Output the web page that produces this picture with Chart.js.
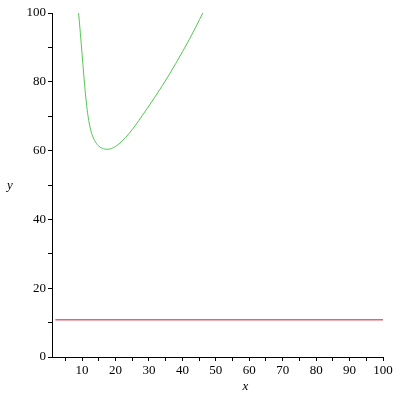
<!DOCTYPE html>
<html>
<head>
<meta charset="utf-8">
<script src="https://cdn.jsdelivr.net/npm/chart.js@4/dist/chart.umd.min.js"></script>
<style>
html,body{margin:0;padding:0;background:#fff;}
canvas{display:block;}
</style>
</head>
<body>
<canvas id="c" width="400" height="400"></canvas>
<script>
// Data
const curveX = [8.9, 9.5, 10, 10.5, 11, 11.5, 12, 12.5, 13, 14, 15, 16, 17, 18, 19, 20, 22, 24, 26, 28, 30, 32, 34, 36, 38, 40, 42, 44, 46.2];
const curveY = [100.5, 94, 88, 82, 76.5, 72, 68.7, 66.3, 64.6, 62.5, 61.3, 60.7, 60.4, 60.4, 60.7, 61.2, 62.8, 64.9, 67.4, 70.2, 73, 75.9, 78.9, 82, 85.3, 88.7, 92.2, 95.9, 100.2];
const lineX = [2, 100];
const lineY = [10.8, 10.8];
const xTicks = [5, 10, 15, 20, 25, 30, 35, 40, 45, 50, 55, 60, 65, 70, 75, 80, 85, 90, 95, 100];
const xLabels = [10, 20, 30, 40, 50, 60, 70, 80, 90, 100];
const yTicks = [0, 10, 20, 30, 40, 50, 60, 70, 80, 90, 100];
const yLabels = [0, 20, 40, 60, 80, 100];
const xTitle = 'x';
const yTitle = 'y';

const curveData = curveX.map((x, i) => ({x: x, y: curveY[i]}));
const lineData = lineX.map((x, i) => ({x: x, y: lineY[i]}));

const titles = {
  id: 'titles',
  afterDraw(chart) {
    const ctx = chart.ctx;
    ctx.save();
    ctx.fillStyle = '#000';
    ctx.font = 'italic 13px "Liberation Serif"';
    ctx.textAlign = 'center';
    ctx.textBaseline = 'middle';
    const xs = chart.scales.x;
    ctx.fillText(xTitle, (xs.left + xs.right) / 2 + 28, 387);
    ctx.fillText(yTitle, 10, 186);
    ctx.restore();
  }
};

new Chart(document.getElementById('c'), {
  type: 'scatter',
  data: {
    datasets: [
      {data: curveData, showLine: true, borderColor: 'rgb(80,200,80)', borderWidth: 1, pointRadius: 0, cubicInterpolationMode: 'monotone'},
      {data: lineData, showLine: true, borderColor: 'rgb(205,25,45)', borderWidth: 1, pointRadius: 0}
    ]
  },
  options: {
    responsive: false,
    animation: false,
    layout: {padding: {top: 13, right: 17, left: 0, bottom: 0}},
    plugins: {legend: {display: false}, tooltip: {enabled: false}},
    scales: {
      x: {
        type: 'linear', min: 1, max: 100,
        afterBuildTicks(s) { s.ticks = xTicks.map(v => ({value: v})); },
        afterFit(s) { s.height = 43; },
        border: {display: true, color: '#000', width: 1},
        grid: {display: true, drawOnChartArea: false, drawTicks: true, tickLength: 4, color: '#000'},
        ticks: {
          autoSkip: false, maxRotation: 0, color: '#000', padding: 2,
          font: {family: '"Liberation Serif"', size: 13},
          callback: v => xLabels.includes(v) ? String(v) : ''
        }
      },
      y: {
        type: 'linear', min: 0, max: 100,
        afterBuildTicks(s) { s.ticks = yTicks.map(v => ({value: v})); },
        afterFit(s) { s.width = 52; },
        border: {display: true, color: '#000', width: 1},
        grid: {display: true, drawOnChartArea: false, drawTicks: true, tickLength: 4, color: '#000'},
        ticks: {
          autoSkip: false, color: '#000', padding: 2,
          font: {family: '"Liberation Serif"', size: 13},
          callback: v => yLabels.includes(v) ? String(v) : ''
        }
      }
    }
  },
  plugins: [titles]
});
</script>
</body>
</html>
